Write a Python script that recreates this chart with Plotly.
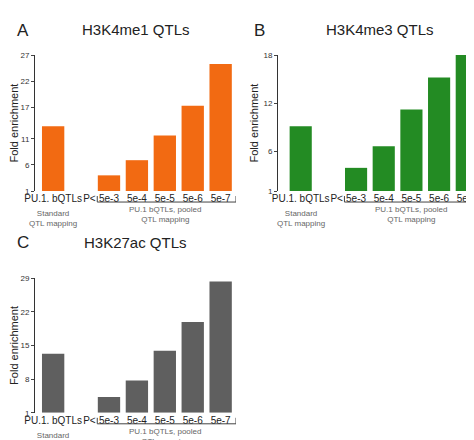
import plotly.graph_objects as go

# Data
categories = ['PU.1. bQTLs', '5e-3', '5e-4', '5e-5', '5e-6', '5e-7']
positions = [0, 2, 3, 4, 5, 6]
h3k4me1 = [13.4, 4.0, 6.9, 11.6, 17.3, 25.3]
h3k4me3 = [9.1, 3.9, 6.6, 11.2, 15.2, 18.1]
h3k27ac = [13.3, 4.3, 7.7, 13.9, 19.9, 28.3]

panels = [
    # letter, title, values, colour, x-domain, y-domain, xrange, ticks
    ('A', 'H3K4me1 QTLs', h3k4me1, '#f26a12', [27/474, 228/474], [0.584, 0.893], [-0.65, 6.55], [1, 6, 11, 17, 22, 27]),
    ('B', 'H3K4me3 QTLs', h3k4me3, '#238b23', [270/474, 1.0], [0.584, 0.893], [-0.82, 6.55], [1, 6, 12, 18]),
    ('C', 'H3K27ac QTLs', h3k27ac, '#5f5f5f', [27/474, 228/474], [0.080, 0.386], [-0.65, 6.55], [1, 8, 15, 22, 29]),
]

FONT = 'Liberation Sans, Arial, sans-serif'
W, H = 474, 440

fig = go.Figure()
annotations = []
shapes = []

for i, (letter, title, vals, col, xd, yd, xr, yt) in enumerate(panels):
    sfx = '' if i == 0 else str(i + 1)
    xa, ya = 'x' + sfx, 'y' + sfx
    fig.add_trace(go.Bar(x=positions, y=[v - 1 for v in vals], base=1, width=0.8,
                         marker=dict(color=col, line=dict(width=0)),
                         xaxis=xa, yaxis=ya, showlegend=False))
    fig.layout['xaxis' + sfx] = dict(domain=xd, range=xr, anchor=ya, automargin=False,
                                     tickvals=[0, 1.3, 2, 3, 4, 5, 6], tickangle=0,
                                     ticktext=['PU.1. bQTLs', 'P<'] + categories[1:],
                                     ticks='', showline=False, showgrid=False, zeroline=False,
                                     tickfont=dict(size=10, color='#222'), fixedrange=True)
    fig.layout['yaxis' + sfx] = dict(domain=yd, range=[yt[0], yt[-1]], anchor=xa, automargin=False,
                                     tickvals=yt, ticks='outside', ticklen=3,
                                     showline=True, linecolor='#333', linewidth=1,
                                     showgrid=False, zeroline=False,
                                     tickfont=dict(size=8, color='#333'),
                                     title=dict(text='Fold enrichment', font=dict(size=11, color='#222'), standoff=2))
    top = yd[1]
    bot = yd[0]
    xcent = (xd[0] + xd[1]) / 2
    # panel letter and title
    annotations.append(dict(text=letter, x=xd[0] - 20/W if i != 1 else xd[0] - 26/W, y=top + 36/H,
                            xref='paper', yref='paper', showarrow=False, xanchor='left',
                            font=dict(size=17, color='#222')))
    annotations.append(dict(text=title, x=xcent, y=top + 36/H, xref='paper', yref='paper',
                            xanchor='center', showarrow=False, font=dict(size=15, color='#222')))
    # bracket under the pooled-QTL categories
    by = bot - 11/H
    shapes.append(dict(type='line', xref=xa, yref='paper', x0=1.58, x1=6.55, y0=by, y1=by,
                       line=dict(color='#444', width=1)))
    shapes.append(dict(type='line', xref=xa, yref='paper', x0=1.58, x1=1.58, y0=by, y1=by + 6/H,
                       line=dict(color='#444', width=1)))
    shapes.append(dict(type='line', xref=xa, yref='paper', x0=6.55, x1=6.55, y0=by, y1=by + 6/H,
                       line=dict(color='#444', width=1)))
    annotations.append(dict(text='Standard<br>QTL mapping', x=0, y=bot - 16/H, xref=xa, yref='paper',
                            showarrow=False, yanchor='top', font=dict(size=8, color='#666')))
    annotations.append(dict(text='PU.1 bQTLs, pooled<br>QTL mapping', x=4, y=bot - 12/H, xref=xa, yref='paper',
                            showarrow=False, yanchor='top', font=dict(size=8, color='#666')))

fig.update_layout(width=W, height=H, margin=dict(l=0, r=0, t=0, b=0),
                  paper_bgcolor='white', plot_bgcolor='white',
                  font=dict(family=FONT), bargap=0.2,
                  annotations=annotations, shapes=shapes)

fig.write_html('out.html')
